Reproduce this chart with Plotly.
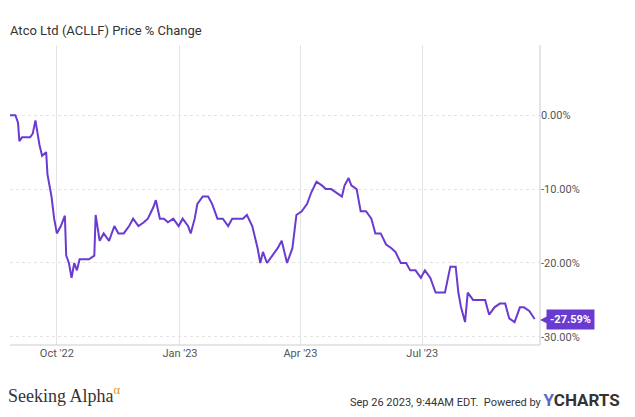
import plotly.graph_objects as go
import pandas as pd

start = pd.Timestamp("2022-08-27")
day_offsets = [0,4,6,7,9,13,15,17,19,22,24,27,28,31,33,35,38,41,42,44,46,48,50,52,55,59,63,64,67,70,74,78,81,85,89,92,96,100,103,107,109,112,115,118,122,126,129,133,135,138,140,144,148,151,155,159,163,166,170,174,177,181,185,187,189,192,196,200,203,207,211,214,218,222,225,229,233,236,240,244,248,250,253,255,259,262,266,270,273,277,281,285,288,292,296,299,303,307,310,314,318,321,325,329,333,335,337,340,342,346,350,355,358,362,366,370,373,377,381,384,388,392]
values = [0,0,-1,-3.5,-3,-3,-3,-2.5,-0.7,-4,-5.5,-5,-8,-11,-14,-16,-15,-13.6,-19,-20,-22,-20,-21,-19.5,-19.5,-19.5,-19,-13.5,-17,-16,-17,-15,-16,-16,-15,-14,-15,-14.5,-14,-12.5,-11.5,-14,-14,-14.5,-14,-15,-14,-15,-16,-14,-12,-11,-11,-12,-14,-14,-15,-14,-14,-14,-13.5,-15,-18,-20,-18.5,-20,-19,-18,-17,-20,-18,-13.5,-13,-12,-10.5,-9,-9.5,-10,-10,-10.5,-11,-9.5,-8.5,-9.5,-10,-13,-13,-14,-16,-16,-17.5,-18,-18.5,-20,-20,-21,-21,-22,-21,-22,-24,-24,-24,-20.5,-20.5,-24,-26,-28,-24,-25,-25,-25,-27,-26,-25.5,-25.5,-27.5,-28,-26,-26,-26.5,-27.59]
dates = [start + pd.Timedelta(days=d) for d in day_offsets]
tick_vals = [0, -10, -20, -30]
tick_text = ["0.00%", "-10.00%", "-20.00%", "-30.00%"]
x_ticks = ["2022-10-01", "2023-01-01", "2023-04-01", "2023-07-01"]
x_labels = ["Oct '22", "Jan '23", "Apr '23", "Jul '23"]
purple = "#6a3bd1"

fig = go.Figure(go.Scatter(x=dates, y=values, mode="lines",
                           line=dict(color=purple, width=2), hoverinfo="skip"))
fig.update_layout(
    width=619, height=401, margin=dict(l=2, r=87, t=37, b=64, autoexpand=False),
    paper_bgcolor="white", plot_bgcolor="white", showlegend=False,
    font=dict(family="Roboto", size=11, color="#555"),
    title=dict(text="Atco Ltd (ACLLF) Price % Change", x=0.0, xref="paper",
               y=0.955, yref="container", font=dict(size=13, color="#333")),
)
fig.update_xaxes(range=[dates[0], dates[-1] + pd.Timedelta(days=4)], tickvals=x_ticks, ticktext=x_labels,
                 showgrid=True, gridcolor="#e4e4e4", showline=False, zeroline=False,
                 ticks="", tickfont=dict(size=11, color="#555"))
fig.update_yaxes(range=[-31.1, 9.5], side="right", tickvals=tick_vals, ticktext=tick_text,
                 showgrid=True, gridcolor="#e4e4e4", griddash="dot", zeroline=False,
                 ticks="", tickfont=dict(size=11, color="#555"))
fig.add_shape(type="line", xref="paper", yref="paper", x0=0, x1=1, y0=0, y1=0, line=dict(color="#ccc", width=1))
fig.add_shape(type="line", xref="paper", yref="paper", x0=1, x1=1, y0=0, y1=1, line=dict(color="#ccc", width=1))
fig.add_annotation(x=1, xref="paper", y=values[-1], yref="y", text="<b>%.2f%%</b>" % values[-1],
                   showarrow=False, xanchor="left", xshift=6, bgcolor=purple,
                   font=dict(color="white", size=11), borderpad=3)
fig.add_annotation(x=1, xref="paper", y=values[-1], yref="y", text="◀", showarrow=False,
                   xanchor="left", xshift=-2, font=dict(color=purple, size=12))
fig.add_annotation(x=0.0, xref="paper", y=-0.165, yref="paper", xanchor="left", yanchor="middle",
                   text="Seeking Alpha<sup><span style='color:#f08a24'>α</span></sup>", showarrow=False,
                   font=dict(size=18, color="#333", family="Liberation Serif"), xshift=-4)
fig.add_annotation(x=1.155, xref="paper", y=-0.183, yref="paper", xanchor="right", yanchor="middle",
                   text="Sep 26 2023, 9:44AM EDT.  Powered by <b><span style='color:#5c6bc0;font-size:17px'>Y</span><span style='font-size:17px'>CHARTS</span></b>",
                   showarrow=False, font=dict(size=11, color="#333"))
fig.write_html("out.html")
